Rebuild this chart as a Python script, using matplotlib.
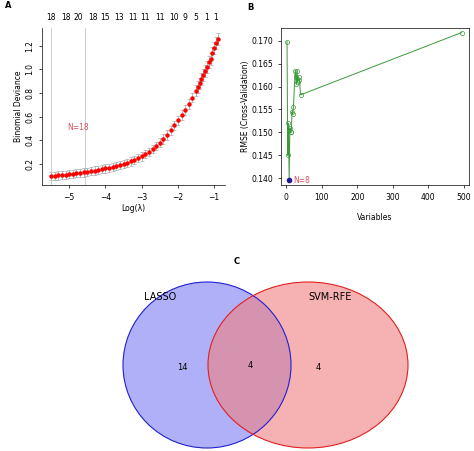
import matplotlib
matplotlib.use("Agg")
import matplotlib.pyplot as plt
from matplotlib.patches import Ellipse
import numpy as np

# Panel A data
log_lambda = [-5.5,-5.4,-5.3,-5.2,-5.1,-5.0,-4.9,-4.8,-4.7,-4.6,-4.5,-4.4,-4.3,-4.2,-4.1,-4.0,
              -3.9,-3.8,-3.7,-3.6,-3.5,-3.4,-3.3,-3.2,-3.1,-3.0,-2.9,-2.8,-2.7,-2.6,-2.5,-2.4,
              -2.3,-2.2,-2.1,-2.0,-1.9,-1.8,-1.7,-1.6,-1.5,-1.45,-1.4,-1.35,-1.3,-1.25,-1.2,
              -1.15,-1.1,-1.05,-1.0,-0.95,-0.9]
deviance = [0.095,0.098,0.101,0.104,0.107,0.111,0.115,0.119,0.123,0.127,0.132,0.137,0.142,0.148,
            0.154,0.160,0.167,0.174,0.182,0.190,0.199,0.209,0.220,0.232,0.246,0.262,0.280,0.300,
            0.323,0.349,0.378,0.410,0.445,0.484,0.525,0.568,0.612,0.657,0.705,0.760,0.820,
            0.850,0.880,0.915,0.950,0.985,1.02,1.06,1.09,1.14,1.18,1.22,1.26]
dev_se = [0.035]*30 + [0.04]*10 + [0.05]*13
top_ticks = [-5.5,-5.1,-4.75,-4.35,-4.0,-3.62,-3.25,-2.9,-2.5,-2.12,-1.8,-1.5,-1.22,-0.97]
top_labels = ["18","18","20","18","15","13","11","11","11","10","9","5","1","1"]
vlines = [-5.5,-4.55]

# Panel B data
n_vars = [2,4,6,8,10,12,14,16,18,20,25,27,28,30,32,35,37,40,494]
rmse = [0.1698,0.145,0.152,0.1395,0.151,0.150,0.150,0.1545,0.154,0.1555,0.1635,0.162,0.1605,
        0.1635,0.161,0.162,0.1615,0.1582,0.1718]

# Venn
venn_names = ["LASSO","SVM-RFE"]
venn_counts = [14,4,4]

fig = plt.figure(figsize=(4.74,4.51), dpi=100)
W,H = 474,451
def ax_px(l,t,r,b):
    return fig.add_axes([l/W, 1-b/H, (r-l)/W, (b-t)/H])

fs = 5.5
axA = ax_px(42,28,225,185)
axA.errorbar(log_lambda, deviance, yerr=dev_se, fmt='o', color='red', ms=2.2,
             ecolor='#aaaaaa', elinewidth=0.6, capsize=1.2, capthick=0.5)
for v in vlines:
    axA.axvline(v, color='#bbbbbb', lw=0.5)
axA.set_xlim(-5.75,-0.7); axA.set_ylim(0.02,1.35)
axA.set_xticks([-5,-4,-3,-2,-1]); axA.set_yticks([0.2,0.4,0.6,0.8,1.0,1.2])
axA.set_yticklabels(["0.2","0.4","0.6","0.8","1.0","1.2"], rotation=90, va='center')
axA.set_xlabel("Log(λ)", fontsize=fs, labelpad=2)
axA.set_ylabel("Binomial Deviance", fontsize=fs, labelpad=2)
axA.text(-5.05,0.49,"N=18",color='#e05060',fontsize=fs)
top = axA.secondary_xaxis('top')
top.set_xticks(top_ticks); top.set_xticklabels(top_labels)
top.tick_params(length=0, labelsize=fs, pad=4)
for s in top.spines.values(): s.set_visible(False)
axA.tick_params(labelsize=fs, length=2, width=0.5)
for s in ['top','right']: axA.spines[s].set_visible(False)
for s in axA.spines.values(): s.set_linewidth(0.5)
fig.text(5/W,1-8/H,"A",fontsize=6,fontweight='bold')

axB = ax_px(281,28,469,185)
axB.plot(n_vars, rmse, '-o', color='#3a9a3a', mfc='none', ms=3, lw=0.7, mew=0.5)
i = int(np.argmin(rmse))
axB.plot(n_vars[i], rmse[i], 'o', color='#1a1a9a', ms=3)
axB.text(n_vars[i]+12, rmse[i], "N=8", color='#e05060', fontsize=fs, va='center')
axB.set_xlim(-15,515); axB.set_ylim(0.1385,0.1728)
axB.set_xticks([0,100,200,300,400,500])
axB.set_yticks([0.140,0.145,0.150,0.155,0.160,0.165,0.170])
axB.set_yticklabels(["0.140","0.145","0.150","0.155","0.160","0.165","0.170"])
axB.set_xlabel("Variables", fontsize=fs, labelpad=8)
axB.set_ylabel("RMSE (Cross-Validation)", fontsize=fs, labelpad=1)
axB.tick_params(labelsize=fs, length=2, width=0.5)
for s in axB.spines.values(): s.set_linewidth(0.5)
fig.text(247/W,1-10/H,"B",fontsize=6,fontweight='bold')

axC = fig.add_axes([0,0,1,1]); axC.set_xlim(0,W); axC.set_ylim(H,0); axC.axis('off')
axC.add_patch(Ellipse((207,365),168,166,facecolor='#b0b0f8',edgecolor='none',alpha=1))
axC.add_patch(Ellipse((308,365),200,166,facecolor='#f08080',edgecolor='none',alpha=0.6))
axC.add_patch(Ellipse((207,365),168,166,facecolor='none',edgecolor='#2020d0',lw=0.8))
axC.add_patch(Ellipse((308,365),200,166,facecolor='none',edgecolor='#e02020',lw=0.8))
axC.text(160,297,venn_names[0],fontsize=7,ha='center',va='center')
axC.text(330,297,venn_names[1],fontsize=7,ha='center',va='center')
axC.text(182,367,str(venn_counts[0]),fontsize=6,ha='center',va='center')
axC.text(250,365,str(venn_counts[1]),fontsize=6,ha='center',va='center')
axC.text(318,367,str(venn_counts[2]),fontsize=6,ha='center',va='center')
axC.text(237,262,"C",fontsize=6,fontweight='bold',ha='center',va='center')

fig.savefig("out.png", dpi=100)
